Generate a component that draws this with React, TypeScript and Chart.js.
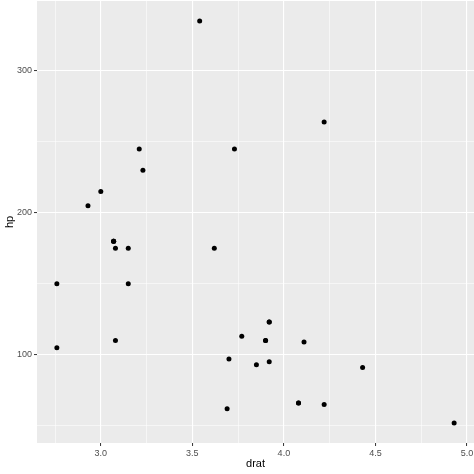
import React, { useEffect, useRef } from "react";
import { Chart, registerables } from "chart.js";

Chart.register(...registerables);

const drat = [3.9, 3.9, 3.85, 3.08, 3.15, 2.76, 3.21, 3.69, 3.92, 3.92, 3.92, 3.07, 3.07, 3.07, 2.93, 3.0, 3.23, 4.08, 4.93, 4.22, 3.7, 2.76, 3.15, 3.73, 3.08, 4.08, 4.43, 3.77, 4.22, 3.62, 3.54, 4.11];
const hp = [110, 110, 93, 110, 175, 105, 245, 62, 95, 123, 123, 180, 180, 180, 205, 215, 230, 66, 52, 65, 97, 150, 150, 245, 175, 66, 91, 113, 264, 175, 335, 109];
const xTicks = [2.75, 3.0, 3.25, 3.5, 3.75, 4.0, 4.25, 4.5, 4.75, 5.0];
const xLabels = ["3.0", "3.5", "4.0", "4.5", "5.0"];
const yTicks = [50, 100, 150, 200, 250, 300];
const yLabels = ["100", "200", "300"];
const xTitle = "drat";
const yTitle = "hp";

export default function App() {
  const ref = useRef<HTMLCanvasElement | null>(null);
  useEffect(() => {
    if (!ref.current) return;
    const xMin = Math.min(...drat), xMax = Math.max(...drat);
    const yMin = Math.min(...hp), yMax = Math.max(...hp);
    const xe = (xMax - xMin) * 0.05, ye = (yMax - yMin) * 0.05;
    const isXMajor = (v: number) => Math.abs(v * 2 - Math.round(v * 2)) < 1e-6;
    const isYMajor = (v: number) => v % 100 === 0;
    const bg = {
      id: "bg",
      beforeDraw(c: any) {
        const { ctx, chartArea: a } = c;
        ctx.save();
        ctx.fillStyle = "#EBEBEB";
        ctx.fillRect(a.left, a.top, a.right - a.left, a.bottom - a.top);
        ctx.restore();
      },
      afterDraw(c: any) {
        const { ctx, chartArea: a } = c;
        ctx.save();
        ctx.fillStyle = "#000000";
        ctx.font = "11px 'Liberation Sans', Arial, sans-serif";
        ctx.textAlign = "center";
        ctx.textBaseline = "middle";
        ctx.fillText(xTitle, (a.left + a.right) / 2, 464);
        ctx.translate(10, (a.top + a.bottom) / 2);
        ctx.rotate(-Math.PI / 2);
        ctx.fillText(yTitle, 0, 0);
        ctx.restore();
      },
    };
    const zeroPad = (s: any) => {
      s.paddingTop = 0;
      s.paddingBottom = 0;
      s.paddingLeft = 0;
      s.paddingRight = 0;
    };
    const chart = new Chart(ref.current, {
      type: "scatter",
      data: {
        datasets: [
          {
            data: drat.map((d, i) => ({ x: d, y: hp[i] })),
            backgroundColor: "#000000",
            borderColor: "#000000",
            borderWidth: 0,
            pointRadius: 2.5,
            hoverRadius: 2.5,
          },
        ],
      },
      options: {
        animation: false,
        responsive: true,
        maintainAspectRatio: false,
        layout: { autoPadding: false, padding: { top: 1, right: 0, left: 0, bottom: 0 } },
        plugins: { legend: { display: false }, tooltip: { enabled: false } },
        scales: {
          x: {
            type: "linear",
            min: xMin - xe,
            max: xMax + xe,
            afterBuildTicks: (s: any) => {
              s.ticks = xTicks.map((v) => ({ value: v }));
            },
            afterFit: (s: any) => {
              s.height = 31;
              zeroPad(s);
            },
            border: { display: false },
            grid: {
              color: "#FFFFFF",
              lineWidth: (c: any) => (isXMajor(c.tick?.value ?? 0) ? 1.1 : 0.55),
              tickLength: 3,
              tickColor: (c: any) => (isXMajor(c.tick?.value ?? 0) ? "#333333" : "rgba(0,0,0,0)"),
              tickWidth: 1,
            },
            ticks: {
              autoSkip: false,
              maxRotation: 0,
              padding: 2,
              color: "#4D4D4D",
              font: { size: 9, family: "'Liberation Sans', Arial, sans-serif" },
              callback: (v: any) => {
                const n = Number(v);
                if (!isXMajor(n)) return "";
                const lab = n.toFixed(1);
                return xLabels.includes(lab) ? lab : "";
              },
            },
          },
          y: {
            type: "linear",
            min: yMin - ye,
            max: yMax + ye,
            afterBuildTicks: (s: any) => {
              s.ticks = yTicks.map((v) => ({ value: v }));
            },
            afterFit: (s: any) => {
              s.width = 37;
              zeroPad(s);
            },
            border: { display: false },
            grid: {
              color: "#FFFFFF",
              lineWidth: (c: any) => (isYMajor(c.tick?.value ?? 0) ? 1.1 : 0.55),
              tickLength: 3,
              tickColor: (c: any) => (isYMajor(c.tick?.value ?? 0) ? "#333333" : "rgba(0,0,0,0)"),
              tickWidth: 1,
            },
            ticks: {
              autoSkip: false,
              padding: 2,
              color: "#4D4D4D",
              font: { size: 9, family: "'Liberation Sans', Arial, sans-serif" },
              callback: (v: any) => {
                const lab = String(Number(v));
                return yLabels.includes(lab) ? lab : "";
              },
            },
          },
        },
      },
      plugins: [bg],
    } as any);
    return () => chart.destroy();
  }, []);
  return (
    <div style={{ position: "absolute", left: 0, top: 0, width: 474, height: 474, background: "#FFFFFF" }}>
      <canvas ref={ref} />
    </div>
  );
}
